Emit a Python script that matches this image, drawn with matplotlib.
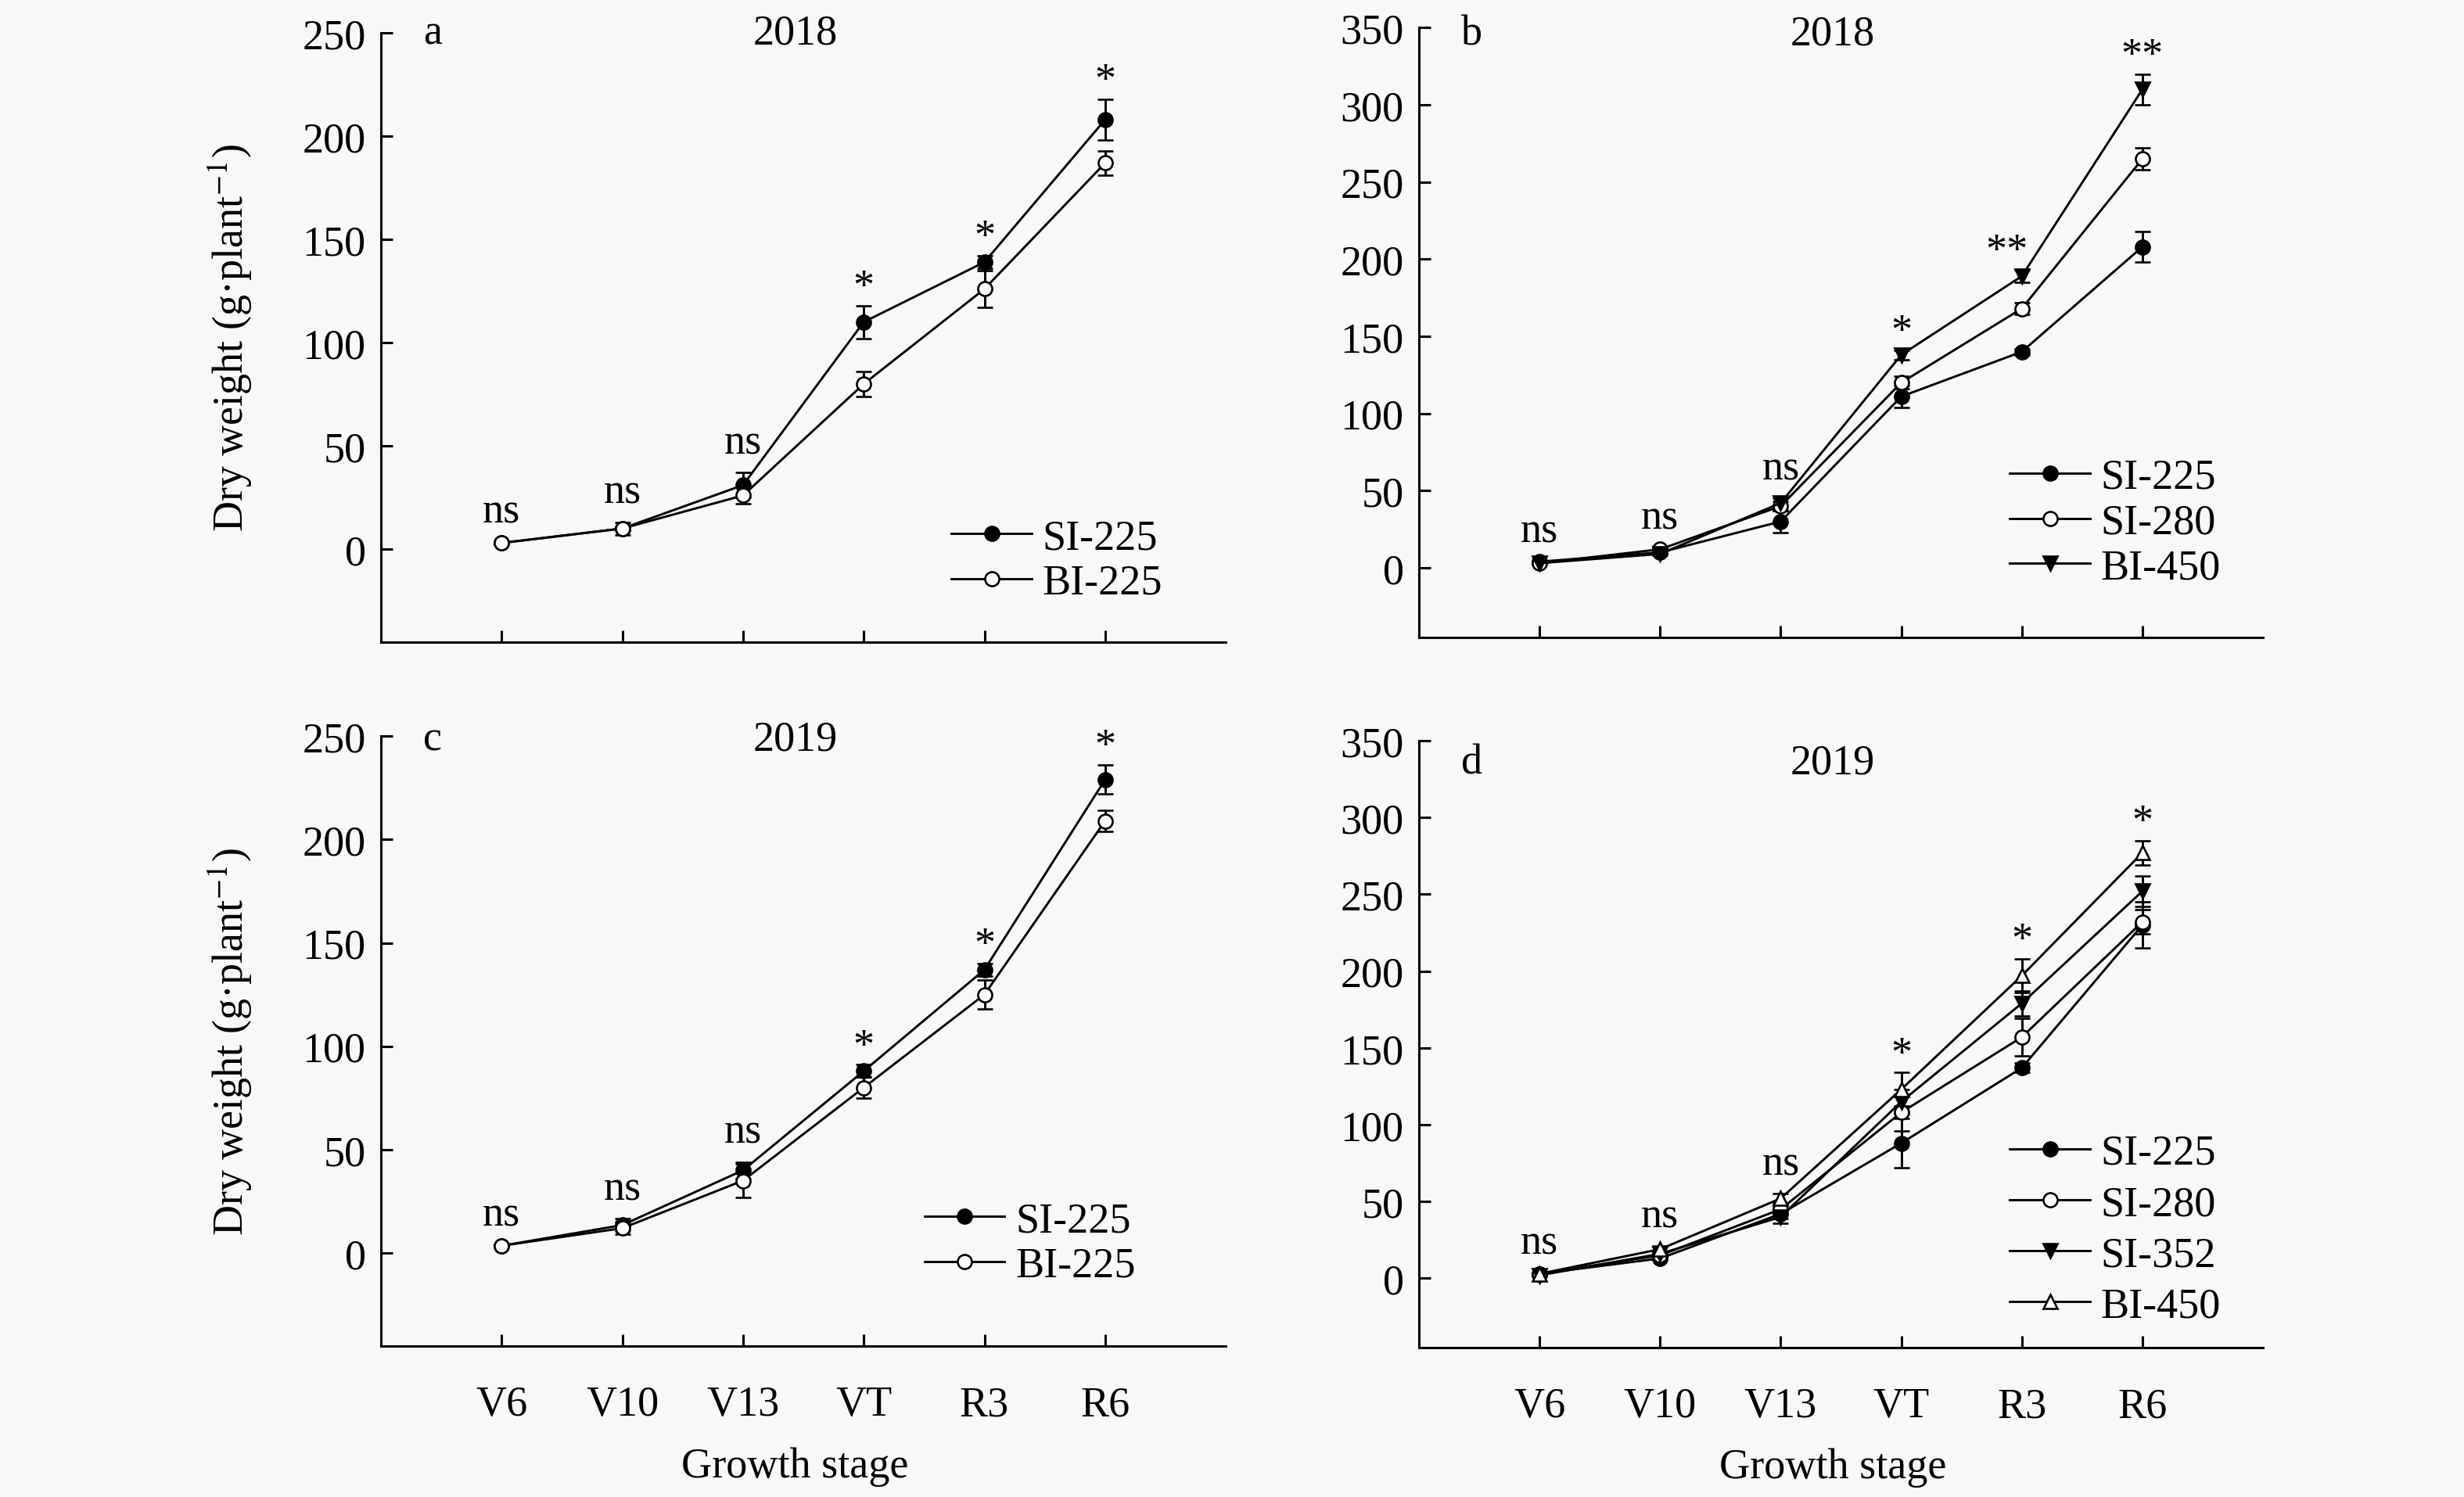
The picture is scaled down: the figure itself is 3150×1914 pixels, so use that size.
import matplotlib
matplotlib.use("Agg")
import matplotlib.pyplot as plt
from matplotlib.lines import Line2D
import numpy as np

plt.rcParams['font.family'] = ['Liberation Serif', 'DejaVu Serif']
plt.rcParams['mathtext.fontset'] = 'stix'

stages = ["V6", "V10", "V13", "VT", "R3", "R6"]

# panel a, 2018
a_si225 = [3, 10, 31, 110, 139, 208]
a_si225_err = [0.5, 1, 6, 8, 3, 10]
a_bi225 = [3, 10, 26, 80, 126, 187]
a_bi225_err = [0.5, 3, 4, 6, 9, 6]
a_sig = ["ns", "ns", "ns", "*", "*", "*"]

# panel b, 2018
b_si225 = [4, 10, 30, 111, 140, 208]
b_si225_err = [0.5, 1, 7, 7, 2, 10]
b_si280 = [3, 12, 40, 120, 168, 265]
b_si280_err = [0.5, 1, 3, 4, 4, 7]
b_bi450 = [3, 9, 42, 138, 189, 310]
b_bi450_err = [0.5, 1, 3, 3, 4, 10]
b_sig = ["ns", "ns", "ns", "*", "**", "**"]

# panel c, 2019
c_si225 = [3.5, 13.5, 40, 88, 137, 229]
c_si225_err = [0.5, 3, 4, 3, 3, 7]
c_bi225 = [3.5, 12, 35, 80, 125, 209]
c_bi225_err = [0.5, 3, 8, 5, 7, 5]
c_sig = ["ns", "ns", "ns", "*", "*", "*"]

# panel d, 2019
d_si225 = [3, 13, 42, 88, 137, 230]
d_si225_err = [0.5, 1, 3, 16, 3, 15]
d_si280 = [3, 15, 45, 108, 157, 232]
d_si280_err = [0.5, 1, 3, 12, 12, 8]
d_si352 = [2, 16, 40, 115, 179, 252]
d_si352_err = [0.5, 1, 4, 8, 8, 10]
d_bi450 = [3, 19, 52, 123, 197, 277]
d_bi450_err = [0.5, 2, 3, 11, 11, 8]
d_sig = ["ns", "ns", "ns", "*", "*", "*"]

FS = 39
LW = 2.1
fig = plt.figure(figsize=(31.5, 19.15), dpi=100)
fig.patch.set_facecolor("#f8f8f8")

rects = {
    "a": [0.1546, 0.5708, 0.3429, 0.4067],
    "b": [0.5759, 0.574, 0.3425, 0.407],
    "c": [0.1546, 0.1008, 0.3429, 0.4072],
    "d": [0.5759, 0.0998, 0.3425, 0.4052],
}

styles = {
    "SI-225": dict(marker="o", mfc="black"),
    "BI-225": dict(marker="o", mfc="white"),
    "SI-280": dict(marker="o", mfc="white"),
    "SI-352": dict(marker="v", mfc="black"),
    "BI-450": dict(marker="v", mfc="black"),
}


def panel(key, year, series, sig, ymax, legpos, titley, lspace, sig_dx=None):
    ax = fig.add_axes(rects[key])
    ax.set_facecolor("none")
    x = np.arange(len(stages))
    tops = np.zeros(len(stages))
    handles = []
    for name, vals, err, st in series:
        v = np.array(vals, float)
        e = np.array(err, float)
        tops = np.maximum(tops, v + e)
        ax.errorbar(x, v, yerr=e, color="black", lw=LW, elinewidth=LW,
                    capsize=7, capthick=LW, marker=st["marker"], mfc=st["mfc"],
                    mec="black", mew=1.9, ms=13)
        handles.append(Line2D([], [], color="black", lw=LW, marker=st["marker"],
                              mfc=st["mfc"], mec="black", mew=1.9, ms=13, label=name))
    sig_dx = sig_dx or {}
    for i, s in enumerate(sig):
        off = 18 if s == "ns" else 7
        ax.annotate(s, (x[i], tops[i]), xytext=(sig_dx.get(i, 0), off),
                    textcoords="offset points", ha="center", va="baseline", fontsize=FS)
    ax.set_xlim(-1, len(stages))
    ax.set_ylim(-45, ymax)
    ax.set_yticks(np.arange(0, ymax + 1, 50))
    ax.set_xticks(x)
    ax.spines["top"].set_visible(False)
    ax.spines["right"].set_visible(False)
    for sp in ("left", "bottom"):
        ax.spines[sp].set_linewidth(2.2)
    ax.tick_params(direction="in", length=11, width=2.2, labelsize=FS, pad=14)
    ax.tick_params(axis="x", pad=36)
    if key in ("c", "d"):
        ax.set_xticklabels(stages)
        ax.set_xlabel("Growth stage", fontsize=FS)
        ax.xaxis.set_label_coords(0.49, -0.165)
    else:
        ax.set_xticklabels([])
    if key in ("a", "c"):
        ax.set_ylabel("Dry weight (g·plant$^{-1}$)", fontsize=FS)
        ax.yaxis.set_label_coords(-0.15, 0.5)
    ax.text(0.05, titley, key, transform=ax.transAxes, fontsize=FS, ha="left", va="center")
    ax.text(0.49, titley, year, transform=ax.transAxes, fontsize=FS, ha="center", va="center")
    ax.legend(handles=handles, loc="center left", bbox_to_anchor=legpos, frameon=False,
              fontsize=FS, handlelength=1.9, handletextpad=0.25, labelspacing=lspace,
              borderpad=0, borderaxespad=0)
    return ax


panel("a", "2018",
      [("SI-225", a_si225, a_si225_err, styles["SI-225"]),
       ("BI-225", a_bi225, a_bi225_err, styles["BI-225"])],
      a_sig, 250, (0.675, 0.134), 1.0, 0.13)

panel("b", "2018",
      [("SI-225", b_si225, b_si225_err, styles["SI-225"]),
       ("SI-280", b_si280, b_si280_err, styles["SI-280"]),
       ("BI-450", b_bi450, b_bi450_err, styles["BI-450"])],
      b_sig, 350, (0.70, 0.188), 0.99, 0.13, sig_dx={4: -14})

panel("c", "2019",
      [("SI-225", c_si225, c_si225_err, styles["SI-225"]),
       ("BI-225", c_bi225, c_bi225_err, styles["BI-225"])],
      c_sig, 250, (0.643, 0.168), 0.995, 0.13)

panel("d", "2019",
      [("SI-225", d_si225, d_si225_err, styles["SI-225"]),
       ("SI-280", d_si280, d_si280_err, styles["SI-280"]),
       ("SI-352", d_si352, d_si352_err, styles["SI-352"]),
       ("BI-450", d_bi450, d_bi450_err, dict(marker="^", mfc="white"))],
      d_sig, 350, (0.70, 0.194), 0.964, 0.27)

fig.savefig("out.png", dpi=100, facecolor=fig.get_facecolor())
